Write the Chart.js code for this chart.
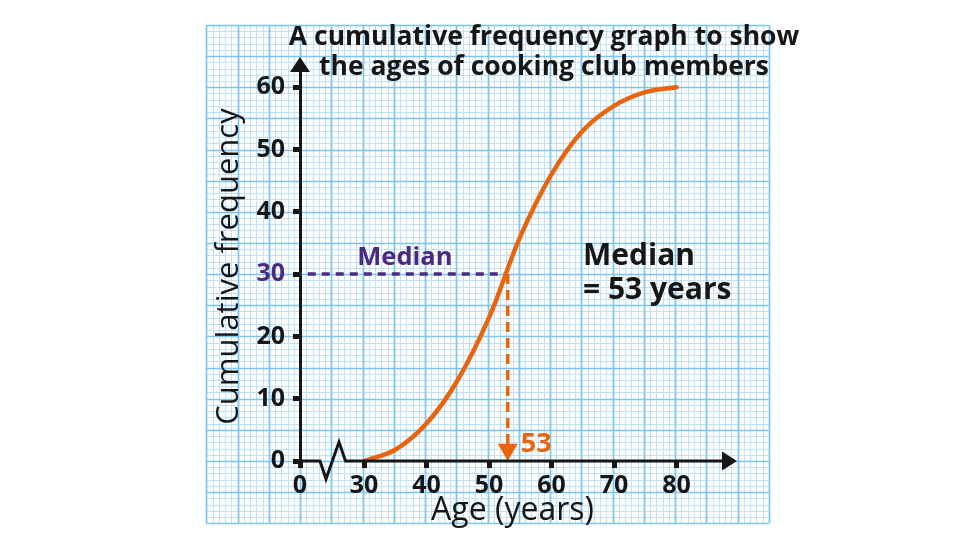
<!DOCTYPE html>
<html>
<head>
<meta charset="utf-8">
<script src="https://cdn.jsdelivr.net/npm/chart.js@4.4.1/dist/chart.umd.min.js"></script>
<style>
  html, body { margin: 0; padding: 0; background: #fff; }
  #wrap { width: 976px; height: 549px; }
</style>
</head>
<body>
<div id="wrap"><canvas id="cfChart"></canvas></div>
<script>
// data
var ages = [30, 35, 40, 45, 50, 55, 60, 65, 70, 75, 80];
var cumFreq = [0, 1.8, 6, 13, 23, 36, 46, 53, 57, 59.2, 60];
var xTickValues = [30, 40, 50, 60, 70, 80];
var xTickLabels = ['0', '30', '40', '50', '60', '70', '80'];
var yTickValues = [0, 10, 20, 30, 40, 50, 60];
var medianAge = 53;
var medianFreq = 30;
var titleLines = ['A cumulative frequency graph to show', 'the ages of cooking club members'];

// the x axis is broken: the "0" tick sits where age 19.76 would be
var axisStart = 19.76;

var ORANGE = '#e8650e';
var PURPLE = '#4b2a82';
var INK = '#161616';
var FONT = '"Open Sans", "DejaVu Sans", sans-serif';

document.addEventListener('DOMContentLoaded', function() {

    // graph paper, axes with arrows, the axis break and the text notes
    var paperPlugin = {
        id: 'paper',
        beforeDraw: function(chart) {
            var ctx = chart.ctx;
            var xs = chart.scales.x, ys = chart.scales.y;
            ctx.save();
            ctx.fillStyle = '#fff';
            ctx.fillRect(0, 0, chart.width, chart.height);
            var x0 = xs.getPixelForValue(axisStart - 15), x1 = xs.getPixelForValue(axisStart + 75);
            var y0 = ys.getPixelForValue(-10), y1 = ys.getPixelForValue(70);
            for (var pass = 0; pass < 2; pass++) {
                for (var i = -15; i <= 75; i++) {
                    var major = (i % 5 === 0);
                    if ((pass === 0) === major) continue;
                    var px = Math.round(xs.getPixelForValue(axisStart + i)) + 0.5;
                    ctx.strokeStyle = major ? '#7cc4f1' : '#bfe2f9';
                    ctx.lineWidth = major ? 1.7 : 1;
                    ctx.beginPath(); ctx.moveTo(px, y0); ctx.lineTo(px, y1); ctx.stroke();
                }
                for (var j = -10; j <= 70; j++) {
                    var majorY = (j % 5 === 0);
                    if ((pass === 0) === majorY) continue;
                    var py = Math.round(ys.getPixelForValue(j)) + 0.5;
                    ctx.strokeStyle = majorY ? '#7cc4f1' : '#bfe2f9';
                    ctx.lineWidth = majorY ? 1.7 : 1;
                    ctx.beginPath(); ctx.moveTo(x0, py); ctx.lineTo(x1, py); ctx.stroke();
                }
            }
            ctx.restore();
        },
        afterDraw: function(chart) {
            var ctx = chart.ctx;
            var xs = chart.scales.x, ys = chart.scales.y;
            var ox = xs.getPixelForValue(axisStart), oy = ys.getPixelForValue(0);
            var area = chart.chartArea;
            ctx.save();

            // x axis line with the zigzag break
            ctx.strokeStyle = INK;
            ctx.lineWidth = 3;
            ctx.lineJoin = 'miter';
            ctx.beginPath();
            ctx.moveTo(ox, oy);
            ctx.lineTo(ox + 20, oy);
            ctx.lineTo(ox + 26, oy + 18);
            ctx.lineTo(ox + 39, oy - 19);
            ctx.lineTo(ox + 45.5, oy);
            ctx.lineTo(area.right, oy);
            ctx.stroke();

            // arrow heads
            ctx.fillStyle = INK;
            ctx.beginPath();
            ctx.moveTo(area.right - 3, oy - 9.5);
            ctx.lineTo(area.right + 12, oy);
            ctx.lineTo(area.right - 3, oy + 9.5);
            ctx.closePath(); ctx.fill();
            ctx.beginPath();
            ctx.moveTo(ox - 10, area.top);
            ctx.lineTo(ox, area.top - 15);
            ctx.lineTo(ox + 10, area.top);
            ctx.closePath(); ctx.fill();

            // title
            ctx.fillStyle = INK;
            ctx.font = 'bold 26.5px ' + FONT;
            ctx.textAlign = 'center';
            ctx.textBaseline = 'alphabetic';
            ctx.fillText(titleLines[0], 544, 45);
            ctx.fillText(titleLines[1], 544, 75);

            // median notes
            var mx = xs.getPixelForValue(medianAge), my = ys.getPixelForValue(medianFreq);
            ctx.fillStyle = PURPLE;
            ctx.font = 'bold 25.5px ' + FONT;
            ctx.textAlign = 'center';
            ctx.fillText('Median', (ox + mx) / 2 + 1, my - 9);

            ctx.fillStyle = ORANGE;
            ctx.font = 'bold 27px ' + FONT;
            ctx.textAlign = 'left';
            ctx.fillText(String(medianAge), mx + 13, oy - 9);

            ctx.fillStyle = INK;
            ctx.font = 'bold 30px ' + FONT;
            ctx.fillText('Median', 583, 265);
            ctx.fillText('= ' + medianAge + ' years', 583, 299);
            ctx.restore();
        }
    };

    var ctx = document.getElementById('cfChart').getContext('2d');
    var cfChart = new Chart(ctx, {
        type: 'line',
        data: {
            datasets: [{
                label: 'Cumulative frequency',
                data: ages.map(function(a, i) { return { x: a, y: cumFreq[i] }; }),
                borderColor: ORANGE,
                borderWidth: 4.5,
                borderCapStyle: 'round',
                tension: 0.34,
                pointRadius: 0,
                order: 0
            }, {
                label: 'Median line',
                data: [{ x: axisStart - 1, y: medianFreq }, { x: medianAge, y: medianFreq }],
                borderColor: PURPLE,
                borderWidth: 3.5,
                borderDash: [8, 6],
                pointRadius: 0,
                order: 1
            }, {
                label: 'Median age',
                data: [{ x: medianAge, y: medianFreq }, { x: medianAge, y: 1.85 }],
                borderColor: ORANGE,
                borderWidth: 3.5,
                borderDash: [10, 6],
                pointRadius: [0, 11.5],
                pointStyle: 'triangle',
                rotation: 180,
                pointBackgroundColor: ORANGE,
                pointBorderWidth: 0,
                order: 1
            }]
        },
        options: {
            responsive: true,
            maintainAspectRatio: false,
            animation: false,
            layout: {
                padding: { left: 206, right: 251, top: 72, bottom: 0 }
            },
            plugins: {
                legend: { display: false },
                tooltip: { enabled: false },
                title: { display: false }
            },
            scales: {
                x: {
                    type: 'linear',
                    min: axisStart,
                    max: 87.76,
                    afterBuildTicks: function(scale) {
                        scale.ticks = [axisStart].concat(xTickValues).map(function(v) { return { value: v }; });
                    },
                    afterFit: function(scale) { scale.height = 88; },
                    border: { display: false },
                    grid: {
                        drawOnChartArea: false,
                        drawTicks: true,
                        tickLength: 7,
                        tickWidth: 5,
                        tickColor: INK
                    },
                    ticks: {
                        autoSkip: false,
                        maxRotation: 0,
                        padding: 3,
                        color: INK,
                        font: { family: FONT, size: 25, weight: 'bold' },
                        callback: function(value, index) { return xTickLabels[index]; }
                    },
                    title: {
                        display: true,
                        text: 'Age (years)',
                        color: INK,
                        font: { family: FONT, size: 32 },
                        padding: { top: 0, bottom: 19 }
                    }
                },
                y: {
                    type: 'linear',
                    min: 0,
                    max: 62.44,
                    afterBuildTicks: function(scale) {
                        scale.ticks = yTickValues.map(function(v) { return { value: v }; });
                    },
                    afterFit: function(scale) { scale.width = 94; },
                    border: { display: true, color: INK, width: 3 },
                    grid: {
                        drawOnChartArea: false,
                        drawTicks: true,
                        tickLength: 7,
                        tickWidth: 5,
                        tickColor: INK
                    },
                    ticks: {
                        autoSkip: false,
                        padding: 8,
                        color: function(c) { return c.tick && c.tick.value === medianFreq ? PURPLE : INK; },
                        font: { family: FONT, size: 25, weight: 'bold' }
                    },
                    title: {
                        display: true,
                        text: 'Cumulative frequency',
                        color: INK,
                        font: { family: FONT, size: 31 },
                        padding: { top: 5, bottom: 0 }
                    }
                }
            }
        },
        plugins: [paperPlugin]
    });
});
</script>
</body>
</html>
